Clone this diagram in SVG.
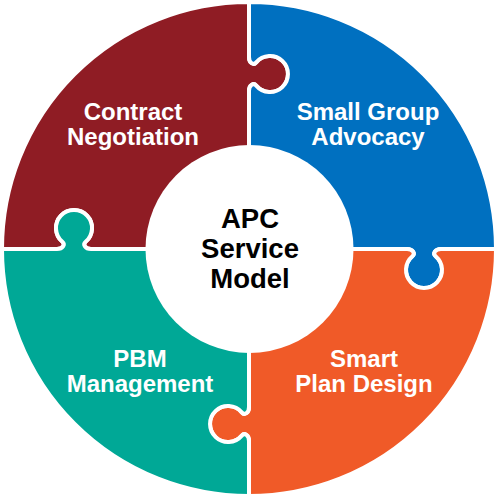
<svg xmlns="http://www.w3.org/2000/svg" width="500" height="500" viewBox="0 0 500 500">
<defs>
<path id="piece" d="M0,0 L0,-158 C0,-164 4.6,-166.5 7.2,-163.4 A18,18 0 1 0 7.2,-186.6 C4.6,-183.5 0,-186 0,-192 L0,-247 A247,247 0 0 0 -247,0 L-192,0 C-186,0 -183.5,-4.6 -186.6,-7.2 A18,18 0 1 1 -163.4,-7.2 C-166.5,-4.6 -164,0 -158,0 Z"/>
</defs>
<style>
.pc{stroke:#fff;stroke-width:4;stroke-linejoin:round}
.lbl{font-family:"Liberation Sans",Arial,sans-serif;font-weight:bold;font-size:24px;fill:#fff;text-anchor:middle}
.ctr{font-family:"Liberation Sans",Arial,sans-serif;font-weight:bold;font-size:27.5px;fill:#000;text-anchor:middle}
</style>
<rect width="500" height="500" fill="#fff"/>
<g transform="translate(249,249)">
<g id="contract-negotiation"><use href="#piece" class="pc" fill="#8F1C24"/></g>
<g id="small-group-advocacy"><use href="#piece" class="pc" fill="#0070C0" transform="rotate(90)"/></g>
<g id="smart-plan-design"><use href="#piece" class="pc" fill="#F05A28" transform="rotate(180)"/></g>
<g id="pbm-management"><use href="#piece" class="pc" fill="#00A896" transform="rotate(270)"/></g>
</g>
<g id="center">
<circle cx="249.5" cy="249" r="104" fill="#fff"/>
<text class="ctr" x="250" y="227.5">APC</text>
<text class="ctr" x="250" y="258">Service</text>
<text class="ctr" x="250" y="287.5">Model</text>
</g>
<g id="labels">
<text class="lbl" x="133" y="120">Contract</text>
<text class="lbl" x="133" y="144.5">Negotiation</text>
<text class="lbl" x="368" y="120">Small Group</text>
<text class="lbl" x="368" y="144.5">Advocacy</text>
<text class="lbl" x="140" y="366.5">PBM</text>
<text class="lbl" x="140" y="392">Management</text>
<text class="lbl" x="364" y="366.5">Smart</text>
<text class="lbl" x="364" y="392">Plan Design</text>
</g>
<g id="connectors"/>
</svg>
